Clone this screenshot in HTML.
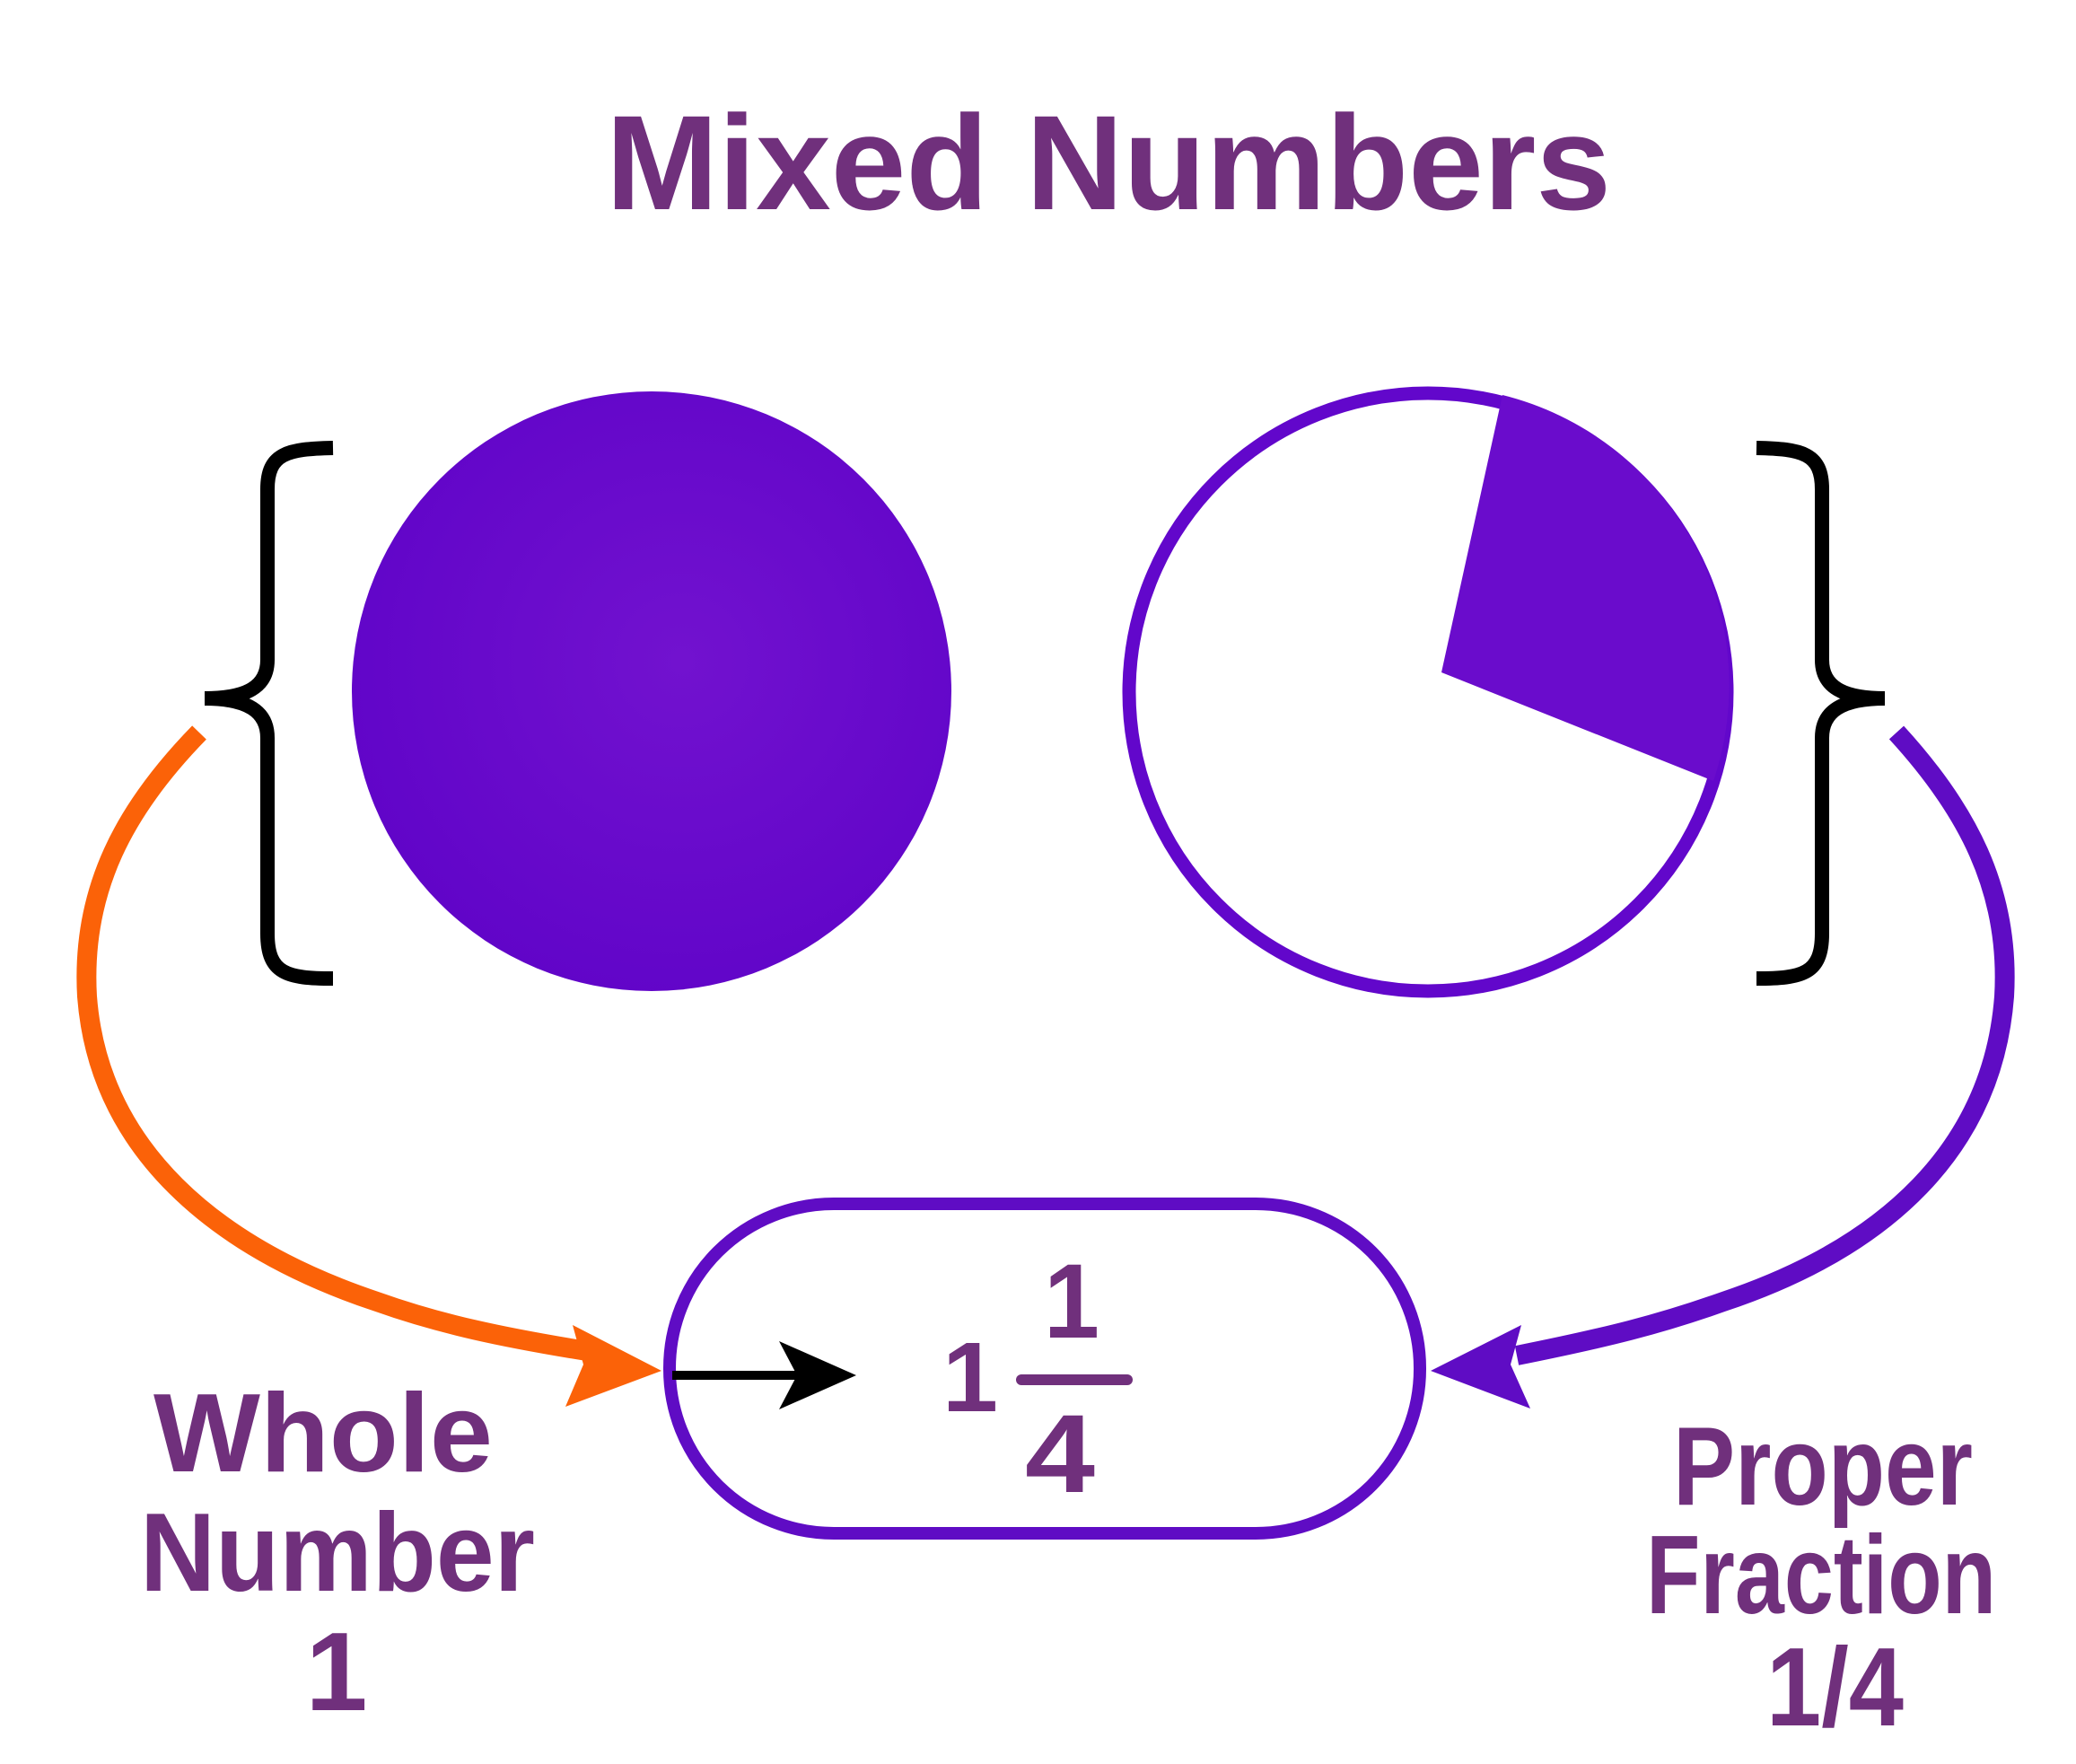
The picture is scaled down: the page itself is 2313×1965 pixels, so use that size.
<!DOCTYPE html>
<html><head><style>html,body{margin:0;padding:0;background:#fff}svg{display:block}</style></head>
<body>
<svg width="2313" height="1965" viewBox="0 0 2313 1965" xmlns="http://www.w3.org/2000/svg">
<defs>
<radialGradient id="g" cx="0.55" cy="0.45" r="0.6"><stop offset="0" stop-color="#7212cf"/><stop offset="1" stop-color="#6004c8"/></radialGradient>
</defs>
<rect width="2313" height="1965" fill="#fff"/>
<g font-family="'Liberation Sans', sans-serif" font-weight="bold" fill="#70307c">
<text x="675" y="233" font-size="150" textLength="1120" lengthAdjust="spacingAndGlyphs">Mixed Numbers</text>
<text x="171" y="1639" font-size="124" textLength="378" lengthAdjust="spacingAndGlyphs">Whole</text>
<text x="156" y="1772" font-size="124" textLength="440" lengthAdjust="spacingAndGlyphs">Number</text>
<text x="375" y="1905" font-size="124" text-anchor="middle">1</text>
<text x="1864" y="1676" font-size="124" textLength="334" lengthAdjust="spacingAndGlyphs">Proper</text>
<text x="1834" y="1797" font-size="124" textLength="390" lengthAdjust="spacingAndGlyphs">Fraction</text>
<text x="1968" y="1922" font-size="124" textLength="153" lengthAdjust="spacingAndGlyphs">1/4</text>
<text x="1050" y="1572" font-size="110" textLength="62" lengthAdjust="spacingAndGlyphs">1</text>
<text x="1163" y="1490" font-size="118" textLength="62" lengthAdjust="spacingAndGlyphs">1</text>
<text x="1142" y="1662" font-size="124" textLength="78" lengthAdjust="spacingAndGlyphs">4</text>
</g>
<line x1="1138" y1="1537" x2="1256" y2="1537" stroke="#70307c" stroke-width="12" stroke-linecap="round"/>
<circle cx="726" cy="770" r="334" fill="url(#g)"/>
<circle cx="1591" cy="771" r="333" fill="none" stroke="#6207cb" stroke-width="15"/>
<path d="M1606 749 L1674 440 A333 333 0 0 1 1909 870 Z" fill="#6a0ccc"/>
<path d="M371 499 C320 500 298 505 298 545 L298 735 C298 765 275 778 228 778 C275 778 298 792 298 822 L298 1040 C298 1085 320 1090 371 1090" fill="none" stroke="#000" stroke-width="16"/>
<path d="M1957 499 C2008 500 2030 505 2030 545 L2030 735 C2030 765 2053 778 2100 778 C2053 778 2030 792 2030 822 L2030 1040 C2030 1085 2008 1090 1957 1090" fill="none" stroke="#000" stroke-width="16"/>
<rect x="746" y="1341" width="836" height="367" rx="183" fill="none" stroke="#5f0cc4" stroke-width="14"/>
<path d="M222 816 C140 900 90 990 97 1110 C110 1280 240 1390 420 1450 C490 1475 560 1490 660 1506" fill="none" stroke="#fb6208" stroke-width="22"/>
<path d="M737 1527 L638 1476 L650 1520 L630 1567 Z" fill="#fb6208"/>
<path d="M2113 816 C2190 900 2240 990 2233 1110 C2220 1280 2100 1390 1920 1450 C1850 1475 1790 1490 1690 1510" fill="none" stroke="#5f0cc4" stroke-width="22"/>
<path d="M1594 1527 L1695 1476 L1683 1520 L1705 1569 Z" fill="#5f0cc4"/>
<line x1="749" y1="1532" x2="900" y2="1532" stroke="#000" stroke-width="10"/>
<path d="M954 1532 L868 1494 L888 1532 L868 1570 Z" fill="#000"/>
</svg>
</body></html>
